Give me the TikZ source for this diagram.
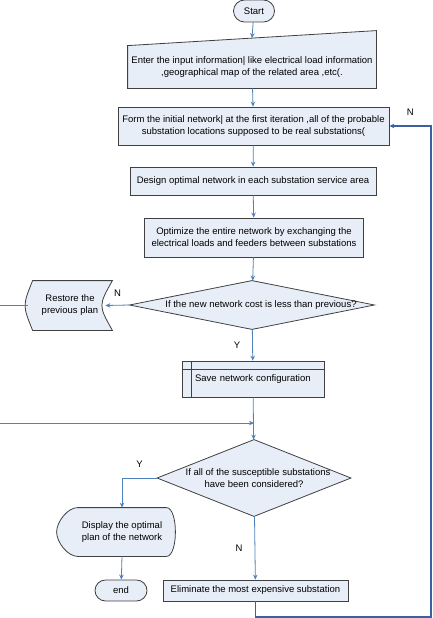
\documentclass[tikz,border=0pt]{standalone}
\usepackage{fontspec}
\setmainfont{Liberation Sans}
\usetikzlibrary{arrows.meta,shapes.misc}

\definecolor{boxfill}{RGB}{232,238,247}
\definecolor{boxline}{RGB}{64,64,64}
\definecolor{flow}{RGB}{79,129,189}
\definecolor{loopline}{RGB}{58,96,165}

\pgfdeclarelayer{background}
\pgfsetlayers{background,main}

\begin{document}
\begin{tikzpicture}[x=1pt,y=-1pt]
	\useasboundingbox (0,0) rectangle (433,618);

	\begin{scope}[every node/.style={draw=boxline,fill=boxfill,thick,inner sep=0pt,align=center,
		font=\fontsize{9.5}{12}\selectfont}]
		\node[rounded rectangle,minimum width=41,minimum height=22] (start) at (254,11) {Start};
		\node[draw=none,fill=none,minimum width=248,minimum height=42] (input) at (252,67)
			{Enter the input information| like electrical load information\\,geographical map of the related area ,etc(.};
		\node[minimum width=271,minimum height=38] (form) at (253.5,126)
			{Form the initial network| at the first iteration ,all of the probable\\substation locations supposed to be real substations(};
		\node[minimum width=246,minimum height=28] (design) at (253,181)
			{Design optimal network in each substation service area};
		\node[minimum width=219,minimum height=39] (optim) at (254,237.5)
			{Optimize the entire network by exchanging the\\electrical loads and feeders between substations};
		\node[draw=none,fill=none,minimum width=244,minimum height=48] (cost) at (252,305)
			{\hspace*{18pt}If the new network cost is less than previous?};
		\node[draw=none,fill=none,minimum width=84,minimum height=49] (restore) at (70,305.5)
			{Restore the\\previous plan};
		\node[minimum width=142,minimum height=36,text width=116pt,align=left] (save) at (253,379)
			{Save network configuration};
		\node[draw=none,fill=none,minimum width=193,minimum height=76] (checked) at (254,478)
			{\hspace*{8pt}If all of the susceptible substations\\have been considered?};
		\node[draw=none,fill=none,minimum width=88,minimum height=48] (display) at (122,532)
			{Display the optimal\\plan of the network};
		\node[rounded rectangle,minimum width=52,minimum height=21] (end) at (121,590.5) {end};
		\node[minimum width=185,minimum height=21] (elim) at (255.5,590.5)
			{Eliminate the most expensive substation};
	\end{scope}

	% outlines of the odd shapes
	\begin{pgfonlayer}{background}
		\begin{scope}[draw=boxline,fill=boxfill,thick]
			\filldraw (input.south west) -- (input.south east) -- ([yshift=15pt]input.north east)
				-- (input.north west) -- cycle;
			\filldraw (cost.west) -- (cost.north) -- (cost.east) -- (cost.south) -- cycle;
			\filldraw (checked.west) -- (checked.north) -- (checked.east) -- (checked.south) -- cycle;
			\filldraw ([xshift=5pt]restore.north west) -- (restore.north east)
				.. controls ([xshift=-14pt]restore.east) .. (restore.south east)
				-- ([xshift=5pt]restore.south west)
				.. controls ([xshift=-5pt]restore.west) .. cycle;
			\filldraw (display.north west) -- (display.north east)
				.. controls ([xshift=12pt]display.north east) and ([xshift=12pt]display.south east) .. (display.south east)
				-- (display.south west) to[out=180,in=-90,looseness=0.8] ([xshift=-21pt]display.west)
				to[out=90,in=180,looseness=0.8] cycle;
		\end{scope}
	\end{pgfonlayer}

	% save box inner lines
	\draw[boxline,thick] ([xshift=10pt]save.north west) -- ([xshift=10pt]save.south west);
	\draw[boxline,thick] ([yshift=-9pt]save.north west) -- ([yshift=-9pt]save.north east);

	\coordinate (merge) at (254,423);
	\coordinate (farleft) at (-12,423);
	\coordinate (loopcorner) at (431,617);

	\begin{scope}[>={Stealth[length=5pt,width=4.5pt]},
		every node/.style={font=\fontsize{9.5}{12}\selectfont,inner sep=0pt,text=black},
		every edge/.style={draw=flow,thick,->}]
		\path (start) edge ([yshift=7.5pt]input.north);
		\path (input) edge (form);
		\path (form) edge (design);
		\path (design) edge (optim);
		\path (optim) edge (cost);
		\path (cost.west) edge node[pos=0.5,above=8pt] {N} ([xshift=-7pt]restore.east);
		\path (cost) edge node[left=12pt] {Y} (save);
		\path (save) edge (checked);
		\draw[flow,thick,->] (checked.west) -| node[pos=0.25,above=10pt] {Y} (display.north);
		\path (display.south) edge (end);
		\path (checked) edge node[left=12pt] {N} (elim);

		\draw[flow,thick,->] (restore.west) -| (farleft) -- (merge);
		\draw[loopline,line width=1.6pt,->] (elim.south) |- (loopcorner) |- node[pos=0.75,above=10pt] {N} (form.east);
	\end{scope}
\end{tikzpicture}
\end{document}
